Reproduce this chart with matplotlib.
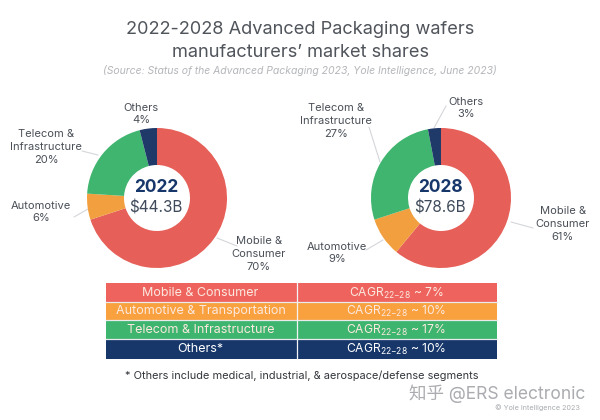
import matplotlib
matplotlib.use("Agg")
import matplotlib.pyplot as plt
from matplotlib.patches import Rectangle

plt.rcParams['font.family'] = ['Inter', 'Noto Sans CJK SC', 'DejaVu Sans']
plt.rcParams['mathtext.fontset'] = 'custom'
plt.rcParams['mathtext.rm'] = 'Inter'
plt.rcParams['mathtext.default'] = 'regular'

W, H = 600, 420
title = "2022-2028 Advanced Packaging wafers\nmanufacturers’ market shares"
source = "(Source: Status of the Advanced Packaging 2023, Yole Intelligence, June 2023)"
years = ["2022", "2028"]
totals = ["$44.3B", "$78.6B"]
shares_2022 = [70, 6, 20, 4]
shares_2028 = [61, 9, 27, 3]
pie_colors = ["#E65F58", "#F2A03F", "#40B56F", "#1F3A68"]

labels_2022 = ["Mobile &\nConsumer\n70%", "Automotive\n6%", "Telecom &\nInfrastructure\n20%", "Others\n4%"]
labels_2028 = ["Mobile &\nConsumer\n61%", "Automotive\n9%", "Telecom &\nInfrastructure\n27%", "Others\n3%"]

table_names = ["Mobile & Consumer", "Automotive & Transportation", "Telecom & Infrastructure", "Others*"]
table_cagr = ["7%", "10%", "17%", "10%"]
table_colors = ["#EF635E", "#F9A03F", "#3EB56E", "#17376B"]
footnote = "* Others include medical, industrial, & aerospace/defense segments"

fig = plt.figure(figsize=(W / 100, H / 100), dpi=100, facecolor="white")
bg = fig.add_axes([0, 0, 1, 1])
bg.set_xlim(0, W)
bg.set_ylim(H, 0)
bg.axis("off")

TEXT = "#4A4F57"
bg.text(300, 41, title, ha="center", va="center", fontsize=13.1, color="#50545B", linespacing=1.42)
bg.text(300, 71, source, ha="center", va="center", fontsize=7.5, style="italic", color="#B4B6BA")


def donut(cx, cy, r, vals, year, total):
    ax = fig.add_axes([(cx - r) / W, 1 - (cy + r) / H, 2 * r / W, 2 * r / H])
    ax.pie(vals, colors=pie_colors, startangle=90, counterclock=False, radius=1,
           wedgeprops=dict(width=1 - 33 / r, linewidth=0))
    ax.set_xlim(-1, 1)
    ax.set_ylim(-1, 1)
    ax.set_aspect("equal")
    ax.axis("off")
    bg.text(cx - 1, cy - 10, year, ha="center", va="center", fontsize=12.5, fontweight="bold", color="#17376B")
    bg.text(cx - 1, cy + 10, total.replace("$", r"\$"), ha="center", va="center", fontsize=11, color="#3F4A5A")


donut(157, 198, 70, shares_2022, years[0], totals[0])
donut(441, 198, 70, shares_2028, years[1], totals[1])

# leader lines and labels
LINE = "#D4D6DA"
leaders = [[(217, 238), (237, 246)], [(88, 209), (74, 217)], [(98, 155), (82, 151)],
           [(511, 222), (533, 228)], [(383, 240), (366, 250)],
           [(380, 162), (369, 127)], [(434, 128), (446, 106)]]
for p, q in leaders:
    bg.plot([p[0], q[0]], [p[1], q[1]], color=LINE, lw=0.8, solid_capstyle="round")

pos_2022 = [(259, 254), (41, 212), (46, 147), (141, 114)]
pos_2028 = [(563, 224), (337, 253), (336, 121), (466, 108)]
for labs, pos in ((labels_2022, pos_2022), (labels_2028, pos_2028)):
    for s, (x, y) in zip(labs, pos):
        bg.text(x, y, s, ha="center", va="center", fontsize=8, color=TEXT, linespacing=1.35)

# table
left, mid, right = 106, 297, 497
edges = [283, 301.5, 320, 338.5, 359]
for i, (name, cagr, col) in enumerate(zip(table_names, table_cagr, table_colors)):
    top, bot = edges[i], edges[i + 1]
    bg.add_patch(Rectangle((left, top), right - left, bot - top, fc=col, ec="none", zorder=2))
    if i:
        bg.plot([left, right], [top, top], color="#E8EAEC", lw=0.9, zorder=3)
    yc = (top + bot) / 2 + 0.5
    tc = "#FFFFFF" if i == 3 else "#FBE9DF"
    bg.text((left + mid) / 2 - 1, yc, name, ha="center", va="center", fontsize=9, color=tc, zorder=4)
    bg.text((mid + right) / 2 - 1, yc + 0.5, r"$CAGR_{22\mathrm{-}28}$ ~ " + cagr, ha="center", va="center",
            fontsize=8.7, color=tc, zorder=4)
bg.plot([mid, mid], [edges[0], edges[-1]], color="#F2F3F4", lw=0.9, zorder=3)

bg.text(302, 376, footnote, ha="center", va="center", fontsize=7.9, color="#33363B")
bg.text(497, 394, "知乎 @ERS electronic", ha="center", va="center", fontsize=12.6, color="#8E9095", alpha=0.75)
bg.text(537, 408, "© Yole Intelligence 2023", ha="center", va="center", fontsize=5.2, color="#A8AAAE")

fig.savefig("out.png", dpi=100, facecolor="white")
